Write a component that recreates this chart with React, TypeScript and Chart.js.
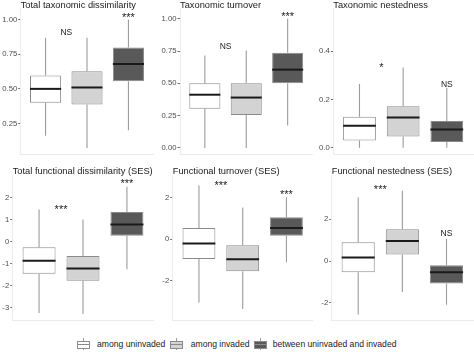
import React, { useEffect, useRef } from "react";
import { Chart, registerables } from "chart.js";

Chart.register(...registerables);

const FONT = '"Liberation Sans", Arial, Helvetica, sans-serif';

const groups = ["among uninvaded", "among invaded", "between uninvaded and invaded"];
const groupPositions = [1, 2, 3];
const fillColors = ["#ffffff", "#d3d3d3", "#595959"];

// each row: [lower whisker, Q1, median, Q3, upper whisker]
const totalTaxonomic = [
  [0.16, 0.4, 0.5, 0.596, 0.87],
  [0.073, 0.387, 0.51, 0.627, 0.87],
  [0.2, 0.556, 0.68, 0.8, 1.0],
];
const taxonomicTurnover = [
  [0.0, 0.304, 0.412, 0.5, 0.716],
  [0.0, 0.254, 0.39, 0.5, 0.754],
  [0.173, 0.5, 0.606, 0.736, 1.0],
];
const taxonomicNestedness = [
  [0.0, 0.03, 0.091, 0.128, 0.264],
  [0.0, 0.047, 0.125, 0.172, 0.332],
  [0.0, 0.024, 0.076, 0.111, 0.248],
];
const totalFunctional = [
  [-3.24, -1.46, -0.86, -0.25, 1.47],
  [-3.29, -1.77, -1.22, -0.65, 1.01],
  [-1.25, 0.27, 0.79, 1.35, 2.51],
];
const functionalTurnover = [
  [-3.04, -0.94, -0.2, 0.55, 2.6],
  [-3.35, -1.54, -0.96, -0.28, 1.53],
  [-1.1, 0.17, 0.55, 1.06, 2.03],
];
const functionalNestedness = [
  [-2.55, -0.54, 0.17, 0.89, 3.04],
  [-1.48, 0.31, 0.95, 1.51, 3.35],
  [-2.08, -1.07, -0.54, -0.2, 1.06],
];

// significance labels: [x position (group index), y value, label]
const totalTaxonomicSig: [number, number, string][] = [[1.5, 0.906, "NS"], [3, 1.028, "***"]];
const taxonomicTurnoverSig: [number, number, string][] = [[1.5, 0.784, "NS"], [3, 1.032, "***"]];
const taxonomicNestednessSig: [number, number, string][] = [[1.5, 0.342, "*"], [3, 0.26, "NS"]];
const totalFunctionalSig: [number, number, string][] = [[1.5, 1.55, "***"], [3, 2.74, "***"]];
const functionalTurnoverSig: [number, number, string][] = [[1.5, 2.71, "***"], [3, 2.24, "***"]];
const functionalNestednessSig: [number, number, string][] = [[1.5, 3.52, "***"], [3, 1.29, "NS"]];

// tick values and labels
const ticksTotalTax = [0.25, 0.5, 0.75, 1.0];
const labelsTotalTax = ["0.25", "0.50", "0.75", "1.00"];
const ticksTaxTurn = [0, 0.25, 0.5, 0.75, 1.0];
const labelsTaxTurn = ["0.00", "0.25", "0.50", "0.75", "1.00"];
const ticksTaxNest = [0, 0.2, 0.4];
const labelsTaxNest = ["0.0", "0.2", "0.4"];
const ticksTotalFun = [-3, -2, -1, 0, 1, 2];
const labelsTotalFun = ["-3", "-2", "-1", "0", "1", "2"];
const ticksFunTurn = [-2, 0, 2];
const labelsFunTurn = ["-2", "0", "2"];
const ticksFunNest = [-2, 0, 2];
const labelsFunNest = ["-2", "0", "2"];

const titles = [
  "Total taxonomic dissimilarity",
  "Taxonomic turnover",
  "Taxonomic nestedness",
  "Total functional dissimilarity (SES)",
  "Functional turnover (SES)",
  "Functional nestedness (SES)",
];

const panels = [
  { title: titles[0], stats: totalTaxonomic, sig: totalTaxonomicSig, ticks: ticksTotalTax, labels: labelsTotalTax, min: 0.026, max: 1.08 },
  { title: titles[1], stats: taxonomicTurnover, sig: taxonomicTurnoverSig, ticks: ticksTaxTurn, labels: labelsTaxTurn, min: -0.05, max: 1.078 },
  { title: titles[2], stats: taxonomicNestedness, sig: taxonomicNestednessSig, ticks: ticksTaxNest, labels: labelsTaxNest, min: -0.027, max: 0.575 },
  { title: titles[3], stats: totalFunctional, sig: totalFunctionalSig, ticks: ticksTotalFun, labels: labelsTotalFun, min: -3.58, max: 3.04 },
  { title: titles[4], stats: functionalTurnover, sig: functionalTurnoverSig, ticks: ticksFunTurn, labels: labelsFunTurn, min: -3.9, max: 3.1 },
  { title: titles[5], stats: functionalNestedness, sig: functionalNestednessSig, ticks: ticksFunNest, labels: labelsFunNest, min: -2.83, max: 4.1 },
];

// layout of each panel canvas
const layouts = [
  { left: 0, top: 0, width: 155, height: 160, axisW: 20.7, padTop: 8.7, padBottom: 1.7, padRight: 1.7 },
  { left: 155, top: 0, width: 160, height: 160, axisW: 25, padTop: 8.7, padBottom: 1.7, padRight: 2.5 },
  { left: 315, top: 0, width: 159, height: 160, axisW: 18.3, padTop: 8.7, padBottom: 1.7, padRight: 1 },
  { left: 0, top: 160, width: 155, height: 166, axisW: 12.7, padTop: 15, padBottom: 2.7, padRight: 1.7 },
  { left: 155, top: 160, width: 160, height: 166, axisW: 17.7, padTop: 15, padBottom: 2.7, padRight: 2.3 },
  { left: 315, top: 160, width: 159, height: 166, axisW: 16.7, padTop: 15, padBottom: 2.7, padRight: 1 },
];

function makePlugin(panel: any) {
  return {
    id: "boxExtras",
    beforeDatasetsDraw(chart: any) {
      const { ctx } = chart;
      const ys = chart.scales.y;
      const meta = chart.getDatasetMeta(0);
      ctx.save();
      ctx.strokeStyle = "#9c9c9c";
      ctx.lineWidth = 1.1;
      meta.data.forEach((el: any, i: number) => {
        const s = panel.stats[i];
        const x = el.x;
        ctx.beginPath();
        ctx.moveTo(x, ys.getPixelForValue(s[0]));
        ctx.lineTo(x, ys.getPixelForValue(s[1]));
        ctx.moveTo(x, ys.getPixelForValue(s[3]));
        ctx.lineTo(x, ys.getPixelForValue(s[4]));
        ctx.stroke();
      });
      ctx.restore();
    },
    afterDraw(chart: any) {
      const { ctx, chartArea } = chart;
      const ys = chart.scales.y;
      const xs = chart.scales.x;
      const meta = chart.getDatasetMeta(0);
      ctx.save();
      // medians
      ctx.strokeStyle = "#1a1a1a";
      ctx.lineWidth = 2;
      meta.data.forEach((el: any, i: number) => {
        const s = panel.stats[i];
        const y = ys.getPixelForValue(s[2]);
        ctx.beginPath();
        ctx.moveTo(el.x - el.width / 2, y);
        ctx.lineTo(el.x + el.width / 2, y);
        ctx.stroke();
      });
      // significance labels
      ctx.fillStyle = "#1a1a1a";
      ctx.textAlign = "center";
      ctx.textBaseline = "middle";
      panel.sig.forEach((a: [number, number, string]) => {
        const isStar = a[2].indexOf("*") >= 0;
        const fs = isStar ? 11 : 8.5;
        ctx.font = `${fs}px ${FONT}`;
        const px = xs.getPixelForValue(a[0]);
        const py = ys.getPixelForValue(a[1]) + (isStar ? 0.23 * fs : 0);
        ctx.fillText(a[2], px, py);
      });
      // title
      ctx.font = `9.3px ${FONT}`;
      ctx.textAlign = "left";
      ctx.textBaseline = "alphabetic";
      ctx.fillText(panel.title, chartArea.left, chartArea.top - 1);
      ctx.restore();
    },
  };
}

function Panel({ index }: { index: number }) {
  const ref = useRef<HTMLCanvasElement | null>(null);
  const panel = panels[index];
  const lay = layouts[index];
  useEffect(() => {
    if (!ref.current) return;
    const chart = new Chart(ref.current, {
      type: "bar",
      data: {
        datasets: [
          {
            data: panel.stats.map((s, i) => ({ x: groupPositions[i], y: [s[1], s[3]] })) as any,
            backgroundColor: fillColors,
            borderColor: "#8a8a8a",
            borderWidth: 1,
            borderSkipped: false,
            barPercentage: 0.75,
            categoryPercentage: 1,
          },
        ],
      },
      options: {
        responsive: false,
        animation: false,
        devicePixelRatio: 1,
        layout: { padding: { top: lay.padTop, bottom: lay.padBottom, right: lay.padRight, left: 0 } },
        plugins: { legend: { display: false }, tooltip: { enabled: false }, title: { display: false } },
        scales: {
          x: {
            type: "linear",
            min: 0.4,
            max: 3.6,
            offset: false,
            grid: { display: false },
            ticks: { display: false },
            border: { display: true, color: "#ebebeb", width: 1 },
            afterBuildTicks: (s: any) => {
              s.ticks = groupPositions.map((v) => ({ value: v }));
            },
            afterFit: (s: any) => {
              s.height = 0;
            },
          },
          y: {
            type: "linear",
            min: panel.min,
            max: panel.max,
            grid: { display: true, drawOnChartArea: false, drawTicks: true, tickLength: 2.5, color: "#6e6e6e", lineWidth: 1 },
            border: { display: true, color: "#ebebeb", width: 1 },
            ticks: {
              padding: 1,
              color: "#4d4d4d",
              font: { size: 7.7, family: FONT },
              autoSkip: false,
              callback: (_v: any, i: number) => panel.labels[i],
            },
            afterBuildTicks: (s: any) => {
              s.ticks = panel.ticks.map((v) => ({ value: v }));
            },
            afterFit: (s: any) => {
              s.width = lay.axisW;
            },
          },
        },
      } as any,
      plugins: [makePlugin(panel)],
    });
    return () => chart.destroy();
  }, []);
  return (
    <canvas
      ref={ref}
      width={lay.width}
      height={lay.height}
      style={{ position: "absolute", left: lay.left, top: lay.top, width: lay.width, height: lay.height }}
    />
  );
}

const legendKeyLefts = [77, 170, 254];
const legendTextLefts = [97, 190.7, 272.7];

function LegendKey({ color, left }: { color: string; left: number }) {
  return (
    <div style={{ position: "absolute", left, top: 338, width: 13, height: 12 }}>
      <div style={{ position: "absolute", left: 6, top: 0, width: 1, height: 12, background: "#9c9c9c" }} />
      <div
        style={{
          position: "absolute",
          left: 0,
          top: 2.5,
          width: 11,
          height: 6,
          background: color,
          border: "1px solid #8a8a8a",
        }}
      />
      <div style={{ position: "absolute", left: 1, top: 5.5, width: 11, height: 1, background: "#8a8a8a" }} />
    </div>
  );
}

export default function App() {
  return (
    <div
      style={{
        position: "absolute",
        left: 0,
        top: 0,
        width: 474,
        height: 355,
        background: "#ffffff",
        overflow: "hidden",
        fontFamily: FONT,
      }}
    >
      {panels.map((_, i) => (
        <Panel key={i} index={i} />
      ))}
      {groups.map((g, i) => (
        <React.Fragment key={g}>
          <LegendKey color={fillColors[i]} left={legendKeyLefts[i]} />
          <div
            style={{
              position: "absolute",
              left: legendTextLefts[i],
              top: 340,
              fontSize: "8.6px",
              lineHeight: "9px",
              color: "#1a1a1a",
              whiteSpace: "nowrap",
            }}
          >
            {g}
          </div>
        </React.Fragment>
      ))}
    </div>
  );
}
